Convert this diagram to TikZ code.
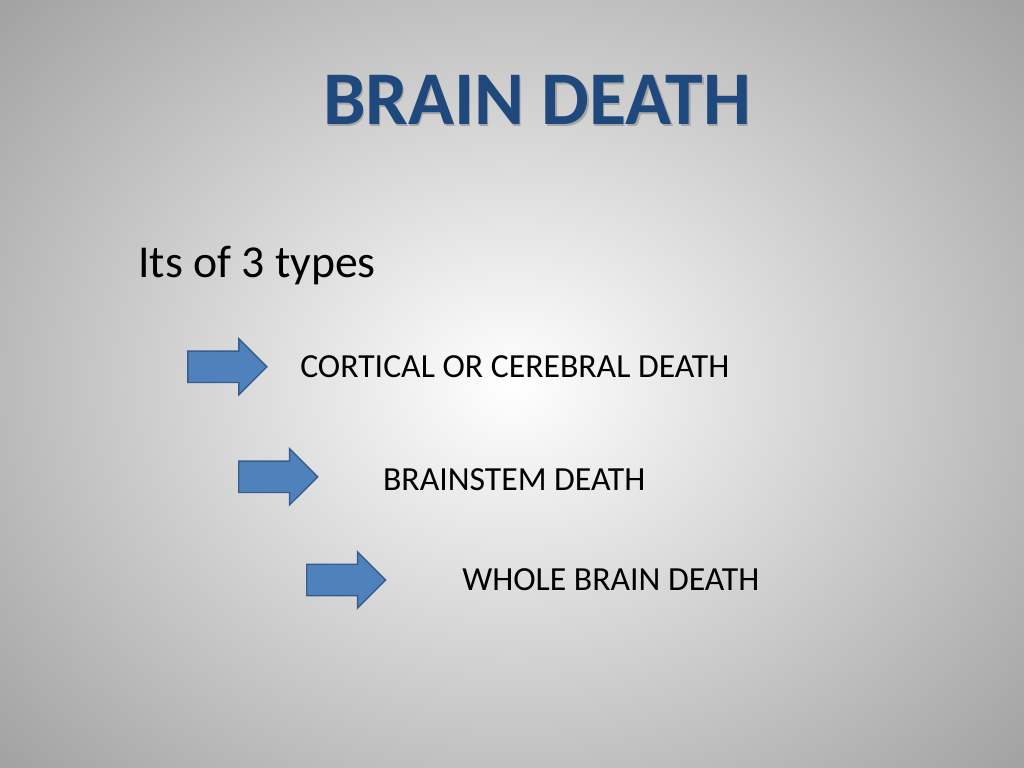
\documentclass[tikz,border=0pt]{standalone}
\usepackage{fontspec}
\setmainfont{Carlito}
\usetikzlibrary{shapes.arrows,shadows}
\definecolor{titleblue}{RGB}{31,73,125}
\definecolor{arrowblue}{RGB}{79,129,189}
\definecolor{arrowline}{RGB}{56,93,138}
\tikzset{
  typearrow/.style={single arrow, fill=arrowblue, draw=arrowline, line width=1pt,
    minimum height=1.975cm, inner sep=0pt, inner ysep=0.375cm, single arrow head extend=0.31cm,
    single arrow tip angle=90, anchor=west},
  typetext/.style={anchor=west, inner sep=0pt, font=\fontsize{24}{28}\selectfont}
}
\begin{document}
\begin{tikzpicture}
\useasboundingbox (0,0) rectangle (25.6,19.2);
\shade[inner color=white, outer color=black!40] (-6,-6) rectangle (31.6,25.2);
\node (shadow) at (13.46,16.65) {\fontsize{54}{64}\selectfont\bfseries\color{black!35}BRAIN DEATH};
\node (title) at (13.43,16.7) {\fontsize{54}{64}\selectfont\bfseries\color{titleblue}BRAIN DEATH};
\node[anchor=west, inner sep=0pt, font=\fontsize{32.5}{38}\selectfont] (intro) at (3.45,12.55) {Its of 3 types};
\node[typearrow] (a1) at (4.68,10.03) {};
\node[typetext] (t1) at (7.5,10.03) {CORTICAL OR CEREBRAL DEATH};
\node[typearrow] (a2) at (5.95,7.28) {};
\node[typetext] (t2) at (9.57,7.2) {BRAINSTEM DEATH};
\node[typearrow] (a3) at (7.65,4.7) {};
\node[typetext] (t3) at (11.55,4.7) {WHOLE BRAIN DEATH};
\end{tikzpicture}
\end{document}
